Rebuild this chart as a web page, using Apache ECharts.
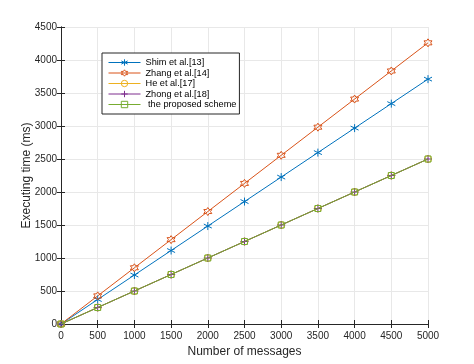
<!DOCTYPE html>
<html><head><meta charset="utf-8">
<script src="https://cdn.jsdelivr.net/npm/echarts@6/dist/echarts.min.js"></script>
<style>html,body{margin:0;padding:0;background:#fff}#c{width:474px;height:364px}</style>
</head><body><div id="c"></div>
<script>
const messages = [0, 500, 1000, 1500, 2000, 2500, 3000, 3500, 4000, 4500, 5000];
const shim = [0, 371, 742, 1113, 1484, 1855, 2226, 2597, 2968, 3339, 3710];
const zhang = [0, 426, 852, 1278, 1704, 2130, 2556, 2982, 3408, 3834, 4260];
const he = [0, 250, 500, 750, 1000, 1250, 1500, 1750, 2000, 2250, 2500];
const zhong = [0, 250, 500, 750, 1000, 1250, 1500, 1750, 2000, 2250, 2500];
const proposed = [0, 250, 500, 750, 1000, 1250, 1500, 1750, 2000, 2250, 2500];
const names = ['Shim et al.[13]', 'Zhang et al.[14]', 'He et al.[17]', 'Zhong et al.[18]', ' the proposed scheme'];

const colors = ['#0072BD', '#D95319', '#EDB120', '#7E2F8E', '#77AC30'];
const asterisk = 'path://M0,-5L0,5M-4.33,-2.5L4.33,2.5M-4.33,2.5L4.33,-2.5';
const hexagram = 'path://M0,-5L1.44,-2.5L4.33,-2.5L2.89,0L4.33,2.5L1.44,2.5L0,5L-1.44,2.5L-4.33,2.5L-2.89,0L-4.33,-2.5L-1.44,-2.5Z';
const plus = 'path://M0,-5L0,5M-5,0L5,0';
const symbols = [asterisk, hexagram, 'circle', plus, 'rect'];
const sizes = [8, 8, 7, 8, 6];
const datas = [shim, zhang, he, zhong, proposed];

const font = 'Liberation Sans, Arial, sans-serif';
const chart = echarts.init(document.getElementById('c'));
const axisLine = {show: true, lineStyle: {color: '#262626', width: 1}};
const plain = v => String(v);
chart.setOption({
  animation: false,
  backgroundColor: '#fff',
  grid: {left: 61, right: 46, top: 27, bottom: 40, show: false},
  legend: {
    orient: 'vertical', left: 102, top: 53,
    backgroundColor: '#fff', borderColor: '#262626', borderWidth: 1,
    padding: [5, 3, 5, 6], itemGap: 1.5, itemWidth: 32, itemHeight: 8,
    itemStyle: {color: 'rgba(255,255,255,0)', borderWidth: 1},
    lineStyle: {width: 1},
    textStyle: {fontFamily: font, fontSize: 9.2, color: '#000'},
    data: names
  },
  xAxis: [{
    type: 'value', min: 0, max: 5000, interval: 500,
    name: 'Number of messages', nameLocation: 'middle', nameGap: 21,
    nameTextStyle: {fontFamily: font, fontSize: 12, color: '#262626'},
    axisLine: axisLine, axisTick: {inside: true, length: 4, lineStyle: {color: '#262626'}},
    axisLabel: {fontFamily: font, fontSize: 10, color: '#262626', margin: 7, formatter: plain},
    splitLine: {show: true, lineStyle: {color: '#e8e8e8', width: 1}}
  }, {
    type: 'value', min: 0, max: 5000, interval: 500, position: 'top',
    axisLine: axisLine, axisTick: {inside: true, length: 4, lineStyle: {color: '#262626'}},
    axisLabel: {show: false}, splitLine: {show: false}
  }],
  yAxis: [{
    type: 'value', min: 0, max: 4500, interval: 500,
    name: 'Executing time (ms)', nameLocation: 'middle', nameGap: 28, nameRotate: 90,
    nameMoveOverlap: false,
    nameTextStyle: {fontFamily: font, fontSize: 12, color: '#262626'},
    axisLine: axisLine, axisTick: {inside: true, length: 4, lineStyle: {color: '#262626'}},
    axisLabel: {fontFamily: font, fontSize: 10, color: '#262626', margin: 4, formatter: plain},
    splitLine: {show: true, lineStyle: {color: '#e8e8e8', width: 1}}
  }, {
    type: 'value', min: 0, max: 4500, interval: 500, position: 'right',
    axisLine: axisLine, axisTick: {inside: true, length: 4, lineStyle: {color: '#262626'}},
    axisLabel: {show: false}, splitLine: {show: false}
  }],
  series: names.map((n, i) => ({
    name: n, type: 'line',
    data: messages.map((m, j) => [m, datas[i][j]]),
    symbol: symbols[i], symbolSize: sizes[i], showAllSymbol: true,
    lineStyle: {color: colors[i], width: 1},
    itemStyle: {color: 'rgba(255,255,255,0)', borderColor: colors[i], borderWidth: 1},
    z: i === 4 ? 5 : 2
  }))
});
</script></body></html>
